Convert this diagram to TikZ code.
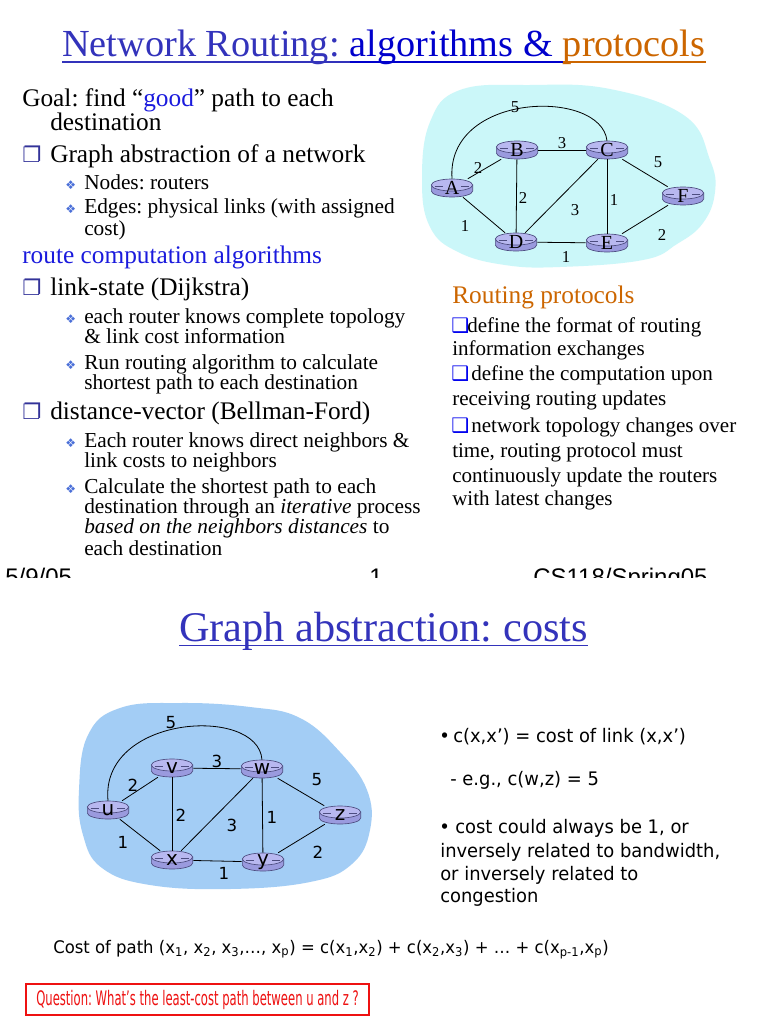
\documentclass[tikz,border=0pt]{standalone}
\usepackage{fontspec}
\setmainfont{Liberation Serif}
\newfontfamily\dejavu{DejaVu Sans}
\newfontfamily\arialf{Liberation Sans}
\newfontfamily\comic[FakeStretch=0.96]{DejaVu Sans}
\newfontfamily\comicp[FakeStretch=0.95]{DejaVu Sans}
\newfontfamily\comicq[FakeStretch=0.58]{DejaVu Sans}
\usetikzlibrary{calc}
\frenchspacing
\definecolor{tA}{HTML}{3333BB}
\definecolor{tB}{HTML}{0000CC}
\definecolor{tC}{HTML}{CC6600}
\definecolor{goodblue}{HTML}{1A1ADD}
\definecolor{bulA}{HTML}{333399}
\definecolor{bulB}{HTML}{4A6FD8}
\definecolor{bulC}{HTML}{0000EE}
\definecolor{cloudA}{HTML}{CBF7F9}
\definecolor{cloudB}{HTML}{A3CDF5}
\definecolor{rtop}{HTML}{B8B8F0}
\definecolor{rbody}{HTML}{9A9ADE}
\definecolor{rline}{HTML}{4D4D80}
\definecolor{qred}{HTML}{EE1111}
\newcommand{\fs}[1]{\fontsize{#1}{#1}\selectfont}
\newcommand{\bA}{{\dejavu\fs{16}\color{bulA}❐}}
\newcommand{\bB}{{\dejavu\fs{9}\color{bulB}❖}}
\newcommand{\bC}{{\dejavu\fs{15}\color{bulC}❑}}
% router icon: name, position, label, font
\newcommand{\router}[4]{%
  \begin{scope}[shift={#2}]
    \filldraw[fill=rbody,draw=rline,line width=0.5pt] (-15.5pt,2.25pt) -- (-15.5pt,-2.25pt)
      arc[start angle=180,end angle=360,x radius=15.5pt,y radius=4.5pt] -- (15.5pt,2.25pt) -- cycle;
    \filldraw[fill=rtop,draw=rline,line width=0.5pt] (0pt,2.25pt) ellipse[x radius=15.5pt,y radius=4.5pt];
    \draw[rline,line width=0.5pt] (-13pt,1.5pt) -- (-7pt,1.5pt) (7pt,1.5pt) -- (13pt,1.5pt);
  \end{scope}
  \node[rnode,font=#4] (#1) at #2 {\raisebox{-2pt}{#3}};
}
\tikzset{
  txt/.style={anchor=base west,inner sep=0pt},
  ttl/.style={anchor=base west,inner sep=0pt},
  rnode/.style={rectangle,minimum width=31.5pt,minimum height=13.5pt,inner sep=0pt},
  edge/.style={draw=black,line width=0.6pt},
  lblA/.style={inner sep=0pt,font=\fs{12.5}},
  lblB/.style={inner sep=0pt,font=\dejavu\fs{12.5}},
}
\begin{document}
\begin{tikzpicture}[x=0.75pt,y=-0.75pt]
\useasboundingbox (0,0) rectangle (768,1024);
\fill[white] (0,0) rectangle (768,1024);

% ---------- slide 1 title ----------
\node[ttl,text=tA,font=\fs{28.7}] (t1a) at (62,57) {Network Routing:\ \null};
\node[ttl,text=tB,font=\fs{28.7}] (t1b) at (t1a.base east) {algorithms \&\ \null};
\node[ttl,text=tC,font=\fs{28.7}] (t1c) at (t1b.base east) {protocols};
\draw[tA,line width=1.3pt] ([yshift=-3.6pt]t1a.base west) -- ([yshift=-3.6pt]t1a.base east);
\draw[tB,line width=1.3pt] ([yshift=-3.6pt]t1b.base west) -- ([yshift=-3.6pt]t1b.base east);
\draw[tC,line width=1.3pt] ([yshift=-3.6pt]t1c.base west) -- ([yshift=-3.6pt]t1c.base east);

% ---------- left text ----------
\begin{scope}[every node/.style={txt}]
\node[font=\fs{19}] (g1) at (22,106) {Goal: find “{\color{goodblue}good}” path to each};
\node[font=\fs{19}] (g2) at (50,130) {destination};
\node (b1) at (22,162) {\bA};
\node[font=\fs{19}] (g3) at (50,162) {Graph abstraction of a network};
\node (s1) at (65,189) {\bB};
\node[font=\fs{16}] (g4) at (84,189) {Nodes: routers};
\node (s2) at (65,213) {\bB};
\node[font=\fs{16}] (g5) at (84,213) {Edges: physical links (with assigned};
\node[font=\fs{16}] (g6) at (84,235) {cost)};
\node[font=\fs{19},text=goodblue] (g7) at (22,263) {route computation algorithms};
\node (b2) at (22,295) {\bA};
\node[font=\fs{19}] (g8) at (50,295) {link-state (Dijkstra)};
\node (s3) at (65,323) {\bB};
\node[font=\fs{16}] (g9) at (84,323) {each router knows complete topology};
\node[font=\fs{16}] (g10) at (84,343) {\& link cost information};
\node (s4) at (65,369) {\bB};
\node[font=\fs{16}] (g11) at (84,369) {Run routing algorithm to calculate};
\node[font=\fs{16}] (g12) at (84,389) {shortest path to each destination};
\node (b3) at (22,419) {\bA};
\node[font=\fs{19}] (g13) at (50,419) {distance-vector (Bellman-Ford)};
\node (s5) at (65,447) {\bB};
\node[font=\fs{16}] (g14) at (84,447) {Each router knows direct neighbors \&};
\node[font=\fs{16}] (g15) at (84,467) {link costs to neighbors};
\node (s6) at (65,493) {\bB};
\node[font=\fs{16}] (g16) at (84,493) {Calculate the shortest path to each};
\node[font=\fs{16}] (g17) at (84,513) {destination through an \textit{iterative} process};
\node[font=\fs{16}] (g18) at (84,533) {\textit{based on the neighbors distances} to};
\node[font=\fs{16}] (g19) at (84,555) {each destination};

% ---------- routing protocols ----------
\node[font=\fs{19},text=tC] (r0) at (452,303) {Routing protocols};
\node (rb1) at (451,332) {\bC};
\node[font=\fs{15.8}] (r1) at (467,332) {define the format of routing};
\node[font=\fs{15.8}] (r2) at (452,355) {information exchanges};
\node (rb2) at (451,380) {\bC};
\node[font=\fs{15.8}] (r3) at (471,380) {define the computation upon};
\node[font=\fs{15.8}] (r4) at (452,405) {receiving routing updates};
\node (rb3) at (451,432) {\bC};
\node[font=\fs{15.8}] (r5) at (471,432) {network topology changes over};
\node[font=\fs{15.8}] (r6) at (452,457) {time, routing protocol must};
\node[font=\fs{15.8}] (r7) at (452,482) {continuously update the routers};
\node[font=\fs{15.8}] (r8) at (452,505) {with latest changes};
\end{scope}

% ---------- footer (cut off) ----------
\begin{scope}
\clip (0,0) rectangle (768,577);
\node[txt,font=\arialf\fs{18}] (f1) at (5,585) {5/9/05};
\node[txt,font=\arialf\fs{18}] (f2) at (369,585) {1};
\node[txt,font=\arialf\fs{18}] (f3) at (533,585) {CS118/Spring05};
\end{scope}

% ---------- top graph ----------
\fill[cloudA] plot[smooth cycle,tension=0.7] coordinates {(422,180) (430,122) (460,90) (530,85) (610,89) (685,116) (710,160) (715,192) (703,223) (677,244) (643,260) (560,267) (505,265) (458,252) (430,227)};
\router{A}{(452,188)}{A}{\fs{15}}
\router{B}{(517,150)}{B}{\fs{15}}
\router{C}{(607,150)}{C}{\fs{15}}
\router{D}{(516,242)}{D}{\fs{15}}
\router{E}{(607,243)}{E}{\fs{15}}
\router{F}{(683,196)}{F}{\fs{15}}
\draw[edge] (A) -- (B);
\draw[edge] (B) -- (C);
\draw[edge] (C) -- (F);
\draw[edge] (A) -- (D);
\draw[edge] (B) -- (D);
\draw[edge] (D) -- (C);
\draw[edge] (C) -- (E);
\draw[edge] (D) -- (E);
\draw[edge] (E) -- (F);
\draw[edge] (A.north) .. controls (446,92) and (601,88) .. (C.north);
\node[lblA] (la1) at (515,107) {5};
\node[lblA] (la2) at (562,143) {3};
\node[lblA] (la3) at (478,168) {2};
\node[lblA] (la4) at (658,162) {5};
\node[lblA] (la5) at (523,198) {2};
\node[lblA] (la6) at (575,210) {3};
\node[lblA] (la7) at (614,200) {1};
\node[lblA] (la8) at (465,226) {1};
\node[lblA] (la9) at (566,257) {1};
\node[lblA] (la10) at (662,235) {2};

% ---------- slide 2 title ----------
\node[ttl,text=tA,font=\fs{31.7}] (t2) at (179,641) {Graph abstraction: costs};
\draw[tA,line width=1.3pt] ([yshift=-3.3pt]t2.base west) -- ([yshift=-3.3pt]t2.base east);

% ---------- bottom graph ----------
\fill[cloudB] plot[smooth cycle,tension=0.7] coordinates {(79,790) (88,735) (120,708) (180,703) (250,707) (300,718) (340,752) (367,790) (370,830) (352,864) (310,882) (230,889) (150,885) (102,868) (83,835)};
\router{u}{(108,810)}{u}{\dejavu\fs{15}}
\router{v}{(172,768)}{v}{\dejavu\fs{15}}
\router{w}{(262,769)}{w}{\dejavu\fs{15}}
\router{x}{(172,860)}{x}{\dejavu\fs{15}}
\router{y}{(263,862)}{y}{\dejavu\fs{15}}
\router{z}{(340,815)}{z}{\dejavu\fs{15}}
\draw[edge] (u) -- (v);
\draw[edge] (v) -- (w);
\draw[edge] (w) -- (z);
\draw[edge] (u) -- (x);
\draw[edge] (v) -- (x);
\draw[edge] (x) -- (w);
\draw[edge] (w) -- (y);
\draw[edge] (x) -- (y);
\draw[edge] (y) -- (z);
\draw[edge] (u.north) .. controls (100,715) and (258,705) .. (w.north);
\node[lblB] (lb1) at (171,723) {5};
\node[lblB] (lb2) at (217,761) {3};
\node[lblB] (lb3) at (133,785) {2};
\node[lblB] (lb4) at (317,780) {5};
\node[lblB] (lb5) at (181,815) {2};
\node[lblB] (lb6) at (232,825) {3};
\node[lblB] (lb7) at (272,817) {1};
\node[lblB] (lb8) at (123,842) {1};
\node[lblB] (lb9) at (224,873) {1};
\node[lblB] (lb10) at (318,852) {2};

% ---------- bottom right text ----------
\begin{scope}[every node/.style={txt,font=\comic\fs{14}}]
\node (c0) at (439,742) {•};
\node (c1) at (453,742) {c(x,x’) = cost of link (x,x’)};
\node (c2) at (450,785) {- e.g., c(w,z) = 5};
\node (c3) at (439,833) {•};
\node (c4) at (455,833) {cost could always be 1, or};
\node (c5) at (440,857) {inversely related to bandwidth,};
\node (c6) at (440,880) {or inversely related to};
\node (c7) at (440,902) {congestion};
\node[font=\comicp\fs{13}] (cp) at (53,953) {Cost of path (x\textsubscript{1}, x\textsubscript{2}, x\textsubscript{3},…, x\textsubscript{p}) = c(x\textsubscript{1},x\textsubscript{2}) + c(x\textsubscript{2},x\textsubscript{3}) + … + c(x\textsubscript{p-1},x\textsubscript{p})};
\end{scope}

% ---------- question box ----------
\node[draw=qred,line width=1.6pt,minimum width=257pt,minimum height=23pt,inner sep=0pt,anchor=north west] (qbox) at (25,983) {};
\node[txt,text=qred,font=\comicq\fs{15}] (q) at (36,1005) {Question: What’s the least-cost path between u and z ?};
\end{tikzpicture}
\end{document}
